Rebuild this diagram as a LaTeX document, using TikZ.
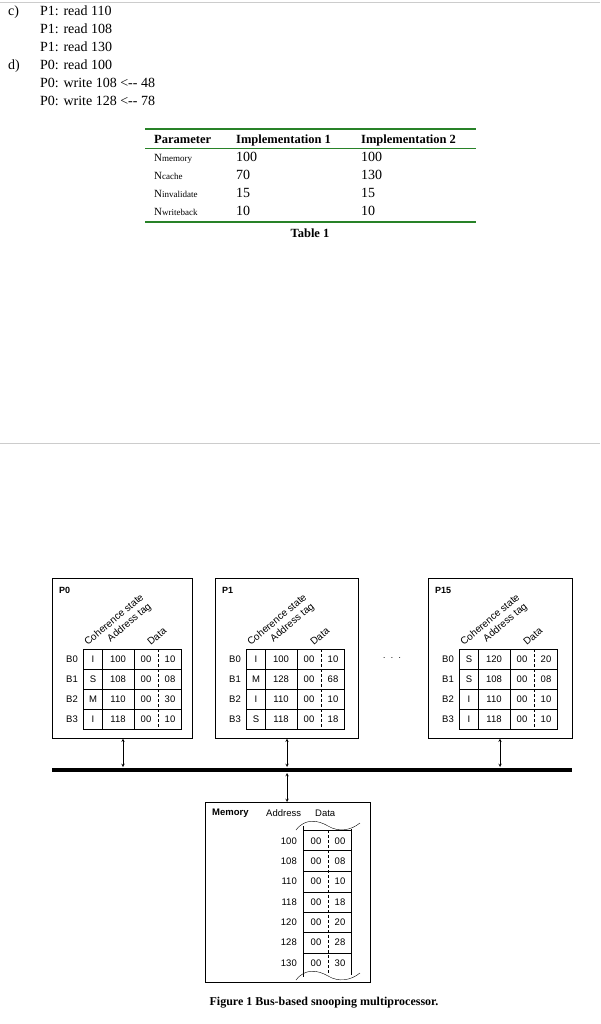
\documentclass[tikz,border=0pt]{standalone}
\usepackage{fontspec}
\setmainfont{Liberation Serif}
\newfontfamily\hv{Liberation Sans}
\definecolor{tgreen}{RGB}{40,130,40}
\begin{document}
\begin{tikzpicture}[x=1pt,y=-1pt,
  txt/.style={font=\fontsize{14}{16}\selectfont,anchor=base west,inner sep=0},
  dg/.style={font=\hv\fontsize{9.5}{10}\selectfont,inner sep=0},
  hd/.style={dg,font=\hv\fontsize{10}{10}\selectfont,rotate=40,anchor=south west},
  pbox/.style={draw,line width=0.6pt},
  dbl/.style={<->,>=stealth,line width=0.5pt}]
\useasboundingbox (0,0) rectangle (600,1024);
\draw[gray!40] (0,2) -- (600,2);
\draw[gray!40] (0,443) -- (600,443);
% top text
\node[txt] (c) at (8,16) {c)};
\node[txt] (c1) at (40,16) {P1: read 110};
\node[txt] (c2) at (40,34) {P1: read 108};
\node[txt] (c3) at (40,52) {P1: read 130};
\node[txt] (d) at (8,70) {d)};
\node[txt] (d1) at (40,70) {P0: read 100};
\node[txt] (d2) at (40,88) {P0: write 108 <{-}{-} 48};
\node[txt] (d3) at (40,106) {P0: write 128 <{-}{-} 78};
% table
\draw[tgreen,line width=1.5pt] (145,129) -- (476,129);
\draw[tgreen,line width=0.7pt] (145,148) -- (476,148);
\draw[tgreen,line width=1.5pt] (145,222) -- (476,222);
\begin{scope}[every node/.style={anchor=base west,inner sep=0}]
\node[font=\bfseries\fontsize{12.5}{14}\selectfont] (h1) at (154,144) {Parameter};
\node[font=\bfseries\fontsize{12.5}{14}\selectfont] (h2) at (236,144) {Implementation 1};
\node[font=\bfseries\fontsize{12.5}{14}\selectfont] (h3) at (361,144) {Implementation 2};
\foreach \n/\a/\b [count=\i] in {memory/100/100,cache/70/130,invalidate/15/15,writeback/10/10}{
  \node[font=\fontsize{9}{10}\selectfont] (pn\i) at (154,144+18*\i) {{\fontsize{11}{12}\selectfont N}\n};
  \node[font=\fontsize{14}{16}\selectfont] (pa\i) at (236,144+18*\i) {\a};
  \node[font=\fontsize{14}{16}\selectfont] (pb\i) at (361,144+18*\i) {\b};
}
\end{scope}
\node[font=\bfseries\fontsize{12.5}{14}\selectfont,anchor=base] (t1) at (310,237) {Table 1};
% cache boxes
\newcommand\cachebox[5]{%
 \begin{scope}[shift={(#1,578)}]
  \node[pbox,minimum width=#2,minimum height=160,anchor=north west] (#3) at (0,0) {};
  \node[dg,font=\hv\bfseries\fontsize{9}{10}\selectfont,anchor=west] (#3l) at (7,12) {#4};
  \node[hd] (#3hc) at (36,68) {Coherence state};
  \node[hd] (#3ha) at (60,66) {Address tag};
  \node[hd] (#3hd) at (99,68) {Data};
  \draw (31,71) rectangle (129,151);
  \foreach \yy in {91,111,131} \draw (31,\yy) -- (129,\yy);
  \draw (50,71) -- (50,151) (82,71) -- (82,151);
  \draw[densely dashed] (106,71) -- (106,151);
  \foreach \s/\ad/\dv [count=\r from 0] in {#5}{
    \node[dg] at (20,81+20*\r) {B\r};
    \node[dg] at (41,81+20*\r) {\s};
    \node[dg] at (66,81+20*\r) {\ad};
    \node[dg] at (94,81+20*\r) {00};
    \node[dg] at (118,81+20*\r) {\dv};
  }
 \end{scope}}
\cachebox{52}{140}{p0}{P0}{I/100/10,S/108/08,M/110/30,I/118/10}
\cachebox{215}{143}{p1}{P1}{I/100/10,M/128/68,I/110/10,S/118/18}
\cachebox{428}{144}{p15}{P15}{S/120/20,S/108/08,I/110/10,I/118/10}
\node[dg,font=\hv\fontsize{10}{10}\selectfont] (dots) at (392,658) {$\cdot\ \cdot\ \cdot$};
% bus
\coordinate (bl) at (52,770); \coordinate (br) at (572,770);
\draw[line width=4.5pt] (bl) -- (br);
\coordinate (b0) at (123,767); \coordinate (b1) at (287,767); \coordinate (b15) at (500,767);
\draw[dbl] (p0.south -| b0) -- (b0);
\draw[dbl] (p1.south -| b1) -- (b1);
\draw[dbl] (p15.south -| b15) -- (b15);
% memory
\node[pbox,minimum width=165,minimum height=180,anchor=north west] (mem) at (205,802) {};
\coordinate (b1d) at (287,773);
\draw[dbl] (b1d) -- (mem.north -| b1d);
\node[dg,font=\hv\bfseries\fontsize{9.5}{10}\selectfont,anchor=west] (ml) at (212,813) {Memory};
\node[dg,anchor=west] (ma) at (266,813) {Address};
\node[dg,anchor=west] (md) at (315,813) {Data};
\draw (296,830) .. controls (305,818) and (318,820) .. (328,826) .. controls (338,832) and (350,831) .. (360,823);
\draw (296,980) .. controls (305,968) and (318,970) .. (328,976) .. controls (338,982) and (350,981) .. (360,973);
\draw (303,826) -- (303,977) (351,829) -- (351,975);
\foreach \yy in {830,850,871,892,912,932,953} \draw (303,\yy) -- (351,\yy);
\draw[densely dashed] (328,830) -- (328,975);
\foreach \a/\dv [count=\r from 0] in {100/00,108/08,110/10,118/18,120/20,128/28,130/30}{
  \node[dg,anchor=east] at (297,841+20.3*\r) {\a};
  \node[dg] at (316,841+20.3*\r) {00};
  \node[dg] at (340,841+20.3*\r) {\dv};
}
\node[font=\bfseries\fontsize{12}{14}\selectfont,anchor=base,inner sep=0] (cap) at (324,1005) {Figure 1 Bus-based snooping multiprocessor.};
\end{tikzpicture}
\end{document}
